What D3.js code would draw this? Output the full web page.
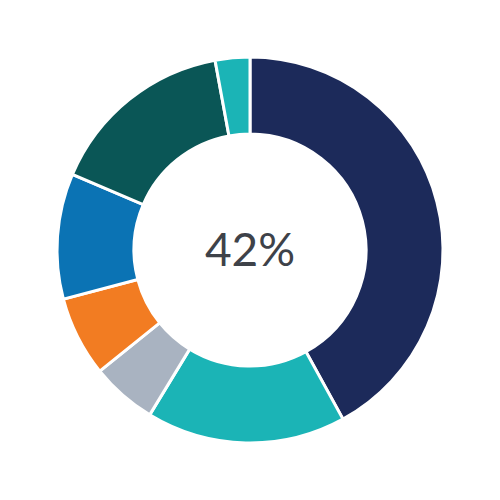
<!DOCTYPE html>
<html><head><meta charset="utf-8">
<script src="https://cdn.jsdelivr.net/npm/d3@7"></script>
<style>html,body{margin:0;padding:0;background:#fff;}</style>
</head><body>
<svg id="chart" width="500" height="500"></svg>
<script>
const categories = ["A","B","C","D","E","F","G"];
const values = [42, 16.7, 5.5, 6.7, 10.5, 15.7, 2.9];
const colors = ["#1c2a5a","#1bb4b6","#a9b3c1","#f27c22","#0b73b4","#0a5656","#1bb4b6"];
const centerLabel = "42%";

const svg = d3.select("#chart");
const g = svg.append("g").attr("transform","translate(250,250)");
const pie = d3.pie().sort(null).value(d=>d.v);
const arc = d3.arc().innerRadius(116).outerRadius(193);
const data = categories.map((c,i)=>({c, v: values[i], color: colors[i]}));
g.selectAll("path").data(pie(data)).join("path")
  .attr("d", arc)
  .attr("fill", d=>d.data.color)
  .attr("stroke","#fff")
  .attr("stroke-width",3);
g.append("text").attr("text-anchor","middle").attr("dy","0.35em")
  .attr("font-family","Lato, 'Open Sans', sans-serif")
  .attr("font-size",46).attr("fill","#3e4249")
  .text(centerLabel);
</script>
</body></html>
